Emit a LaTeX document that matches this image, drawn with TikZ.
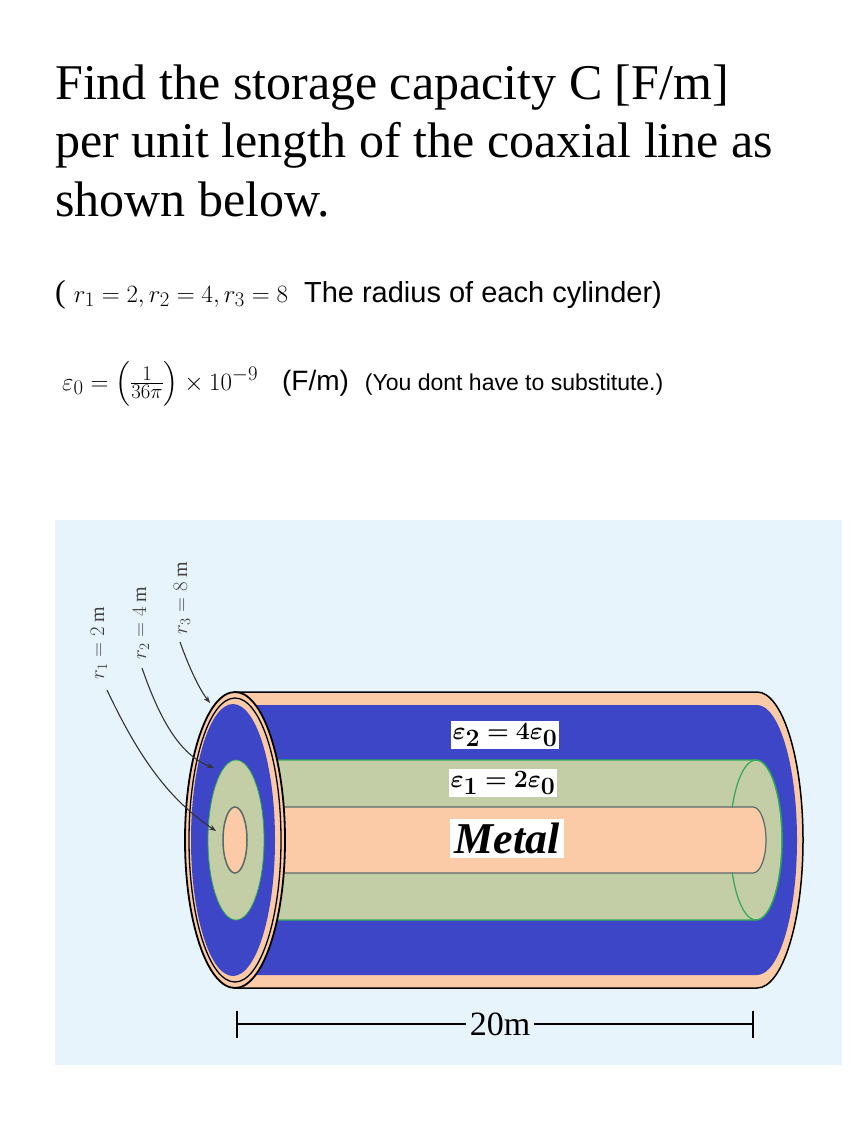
\documentclass[tikz,border=0pt]{standalone}
\usepackage{amsmath}
\usepackage{bm}
\usepackage{fontspec}
\setmainfont{Liberation Serif}
\newfontfamily\arial{Liberation Sans}
\usetikzlibrary{arrows.meta}
\definecolor{bgpanel}{HTML}{E8F4FC}
\definecolor{peach}{HTML}{FBCBA8}
\definecolor{deepblue}{HTML}{3E46C8}
\definecolor{sage}{HTML}{C3CDA6}
\definecolor{edgegreen}{HTML}{2EAA55}
\definecolor{metalgray}{HTML}{5A6A6A}
\tikzset{
  title/.style={anchor=base west,font=\fontsize{50}{54}\selectfont,inner sep=0},
  lbl/.style={fill=white,inner sep=2pt,font=\fontsize{40}{42}\selectfont\bfseries},
  rlabel/.style={rotate=90,anchor=west,font=\fontsize{20}{22}\selectfont,text=black!75,inner sep=0},
  pointer/.style={black!80,line width=1.1pt,-{Stealth[length=7pt]}},
}
\begin{document}
\begin{tikzpicture}[x=1pt,y=-1pt]
\useasboundingbox (0,0) rectangle (866,1126);
\fill[white] (0,0) rectangle (866,1126);
\node[title] (t1) at (55,100) {Find the storage capacity C [F/m]};
\node[title] (t2) at (55,158) {per unit length of the coaxial line as};
\node[title] (t3) at (55,216) {shown below.};
\node[anchor=base west,inner sep=0,font=\fontsize{32}{34}\selectfont] (t4) at (55,302)
  {( $r_1=2,r_2=4,r_3=8$\ \ {\arial\fontsize{29}{32}\selectfont The radius of each cylinder)}};
\node[anchor=base west,inner sep=0,font=\fontsize{32}{34}\selectfont] (t5) at (62,390)
  {$\varepsilon_0=\left(\frac{1}{36\pi}\right)\times10^{-9}$\ \ \ {\arial\fontsize{28}{30}\selectfont (F/m)}\ \ {\arial\fontsize{23}{26}\selectfont (You dont have to substitute.)}};
% panel
\fill[bgpanel] (55,520) rectangle (842,1065);
% outer body
\filldraw[fill=peach,draw=black,line width=1.5pt] (235,692) -- (757,692) arc[start angle=90,end angle=-90,x radius=46pt,y radius=148pt] -- (235,988) -- cycle;
\fill[deepblue] (235,705) -- (757,705) arc[start angle=90,end angle=-90,x radius=40pt,y radius=135pt] -- (235,975) -- cycle;
\filldraw[fill=sage,draw=edgegreen,line width=1.2pt] (235,760) -- (756,760) arc[start angle=90,end angle=-90,x radius=26pt,y radius=80pt] -- (235,920) -- cycle;
\draw[edgegreen,line width=1.2pt] (756,840) ellipse [x radius=26pt,y radius=80pt];
\filldraw[fill=peach,draw=metalgray,line width=1.2pt] (235,807) -- (753,807) arc[start angle=90,end angle=-90,x radius=13pt,y radius=33pt] -- (235,873) -- cycle;
% left face
\filldraw[fill=peach,draw=black,line width=1.8pt] (235,840) ellipse [x radius=50pt,y radius=148pt];
\fill[deepblue] (233,840) ellipse [x radius=42pt,y radius=136pt];
\draw[black,line width=1.3pt] (235,840) ellipse [x radius=46pt,y radius=142pt];
\filldraw[fill=sage,draw=edgegreen,line width=0.8pt] (236,840) ellipse [x radius=28pt,y radius=80pt];
\filldraw[fill=peach,draw=metalgray,line width=1.5pt] (235,840) ellipse [x radius=12pt,y radius=33pt];
% labels
\node[lbl] (e2) at (505,735) {$\bm{\varepsilon_2=4\varepsilon_0}$};
\node[lbl] (e1) at (503,783) {$\bm{\varepsilon_1=2\varepsilon_0}$};
\node[lbl,inner sep=4pt,font=\fontsize{44}{46}\selectfont\bfseries\itshape] (mt) at (507,838) {Metal};
% radius labels
\node[rlabel] (r1) at (99,680) {$r_1=2$ m};
\node[rlabel] (r2) at (141,660) {$r_2=4$ m};
\node[rlabel] (r3) at (182,635) {$r_3=8$ m};
\coordinate (p1) at (216,831);
\coordinate (p2) at (214,768);
\coordinate (p3) at (210,703);
\draw[pointer] (107,690) .. controls (140,760) and (170,800) .. (p1);
\draw[pointer] (142,668) .. controls (160,720) and (180,755) .. (p2);
\draw[pointer] (180,642) .. controls (190,670) and (200,690) .. (p3);
% dimension
\node[font=\fontsize{34}{36}\selectfont] (len) at (500,1024) {20m};
\coordinate (dl) at (237,1024);
\coordinate (dr) at (753,1024);
\draw[line width=1.1pt] (237,1011) -- (237,1038);
\draw[line width=1.1pt] (753,1011) -- (753,1038);
\draw[line width=1.1pt] (dl) -- (len.west);
\draw[line width=1.1pt] (len.east) -- (dr);
\end{tikzpicture}
\end{document}
